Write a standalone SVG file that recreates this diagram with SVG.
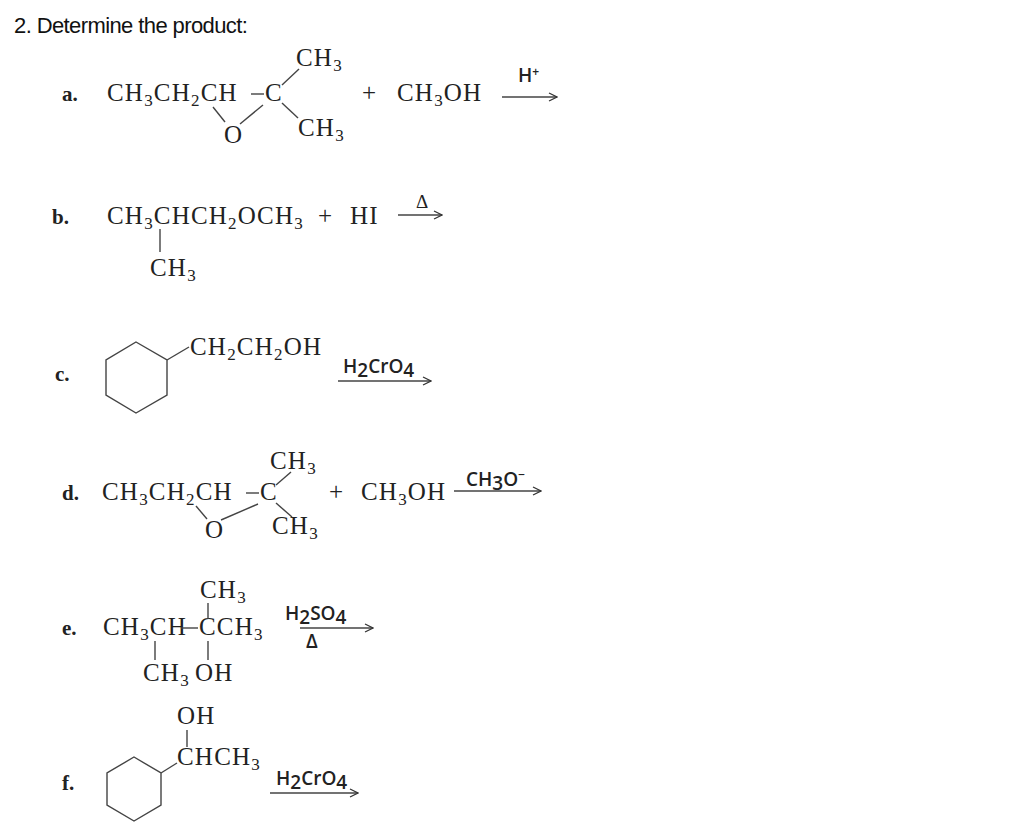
<svg xmlns="http://www.w3.org/2000/svg" width="1024" height="836" viewBox="0 0 1024 836">
<style>
.t{font-family:"Liberation Serif",serif;font-size:25px;letter-spacing:1.2px;fill:#222}
.s{font-size:17px}
.l{font-family:"Liberation Serif",serif;font-size:21px;font-weight:bold;fill:#222}
.r{font-family:"Open Sans","Liberation Sans",sans-serif;font-size:19px;font-weight:600;fill:#222}
.b{stroke:#444;stroke-width:1.4;fill:none}
.h{font-family:"Liberation Sans",sans-serif;font-size:22px;fill:#111;letter-spacing:-0.6px}
</style>
<defs><marker id="ar" markerWidth="10" markerHeight="10" refX="9" refY="5" orient="auto" markerUnits="userSpaceOnUse"><path d="M1,1 L9,5 L1,9" fill="none" stroke="#333" stroke-width="1.2"/></marker></defs>
<rect width="1024" height="836" fill="#fff"/>
<text class="h" x="14" y="33">2.  Determine the product:</text>

<g id="a">
<text class="l" x="62" y="101">a.</text>
<text class="t" x="107" y="101">CH<tspan class="s" dy="5">3</tspan><tspan dy="-5">CH</tspan><tspan class="s" dy="5">2</tspan><tspan dy="-5">CH</tspan></text>
<line class="b" x1="251" y1="94" x2="264" y2="94"/>
<text class="t" x="265" y="101">C</text>
<text class="t" x="296" y="66">CH<tspan class="s" dy="5">3</tspan></text>
<text class="t" x="298" y="136">CH<tspan class="s" dy="5">3</tspan></text>
<text class="t" x="224" y="143">O</text>
<line class="b" x1="282" y1="85" x2="299" y2="69"/>
<line class="b" x1="282" y1="103" x2="298" y2="118"/>
<line class="b" x1="213" y1="107" x2="225" y2="122"/>
<line class="b" x1="240" y1="124" x2="263" y2="105"/>
<text class="t" x="362" y="101">+</text>
<text class="t" x="397" y="101">CH<tspan class="s" dy="5">3</tspan><tspan dy="-5">OH</tspan></text>
<text class="r" x="518" y="82">H<tspan font-size="12" dy="-6">+</tspan></text>
</g>

<g id="b">
<text class="l" x="52" y="224">b.</text>
<text class="t" x="107" y="224">CH<tspan class="s" dy="5">3</tspan><tspan dy="-5">CHCH</tspan><tspan class="s" dy="5">2</tspan><tspan dy="-5">OCH</tspan><tspan class="s" dy="5">3</tspan></text>
<line class="b" x1="160" y1="229" x2="160" y2="252"/>
<text class="t" x="150" y="276">CH<tspan class="s" dy="5">3</tspan></text>
<text class="t" x="318" y="224">+</text>
<text class="t" x="350" y="224">HI</text>
<text class="t" x="416" y="208" style="font-size:19px">Δ</text>
</g>

<g id="c">
<text class="l" x="55" y="381">c.</text>
<polygon class="b" points="136,342 167,360 167,395 136,413 106,395 106,360"/>
<line class="b" x1="167" y1="360" x2="189" y2="347"/>
<text class="t" x="190" y="355">CH<tspan class="s" dy="5">2</tspan><tspan dy="-5">CH</tspan><tspan class="s" dy="5">2</tspan><tspan dy="-5">OH</tspan></text>
<text class="r" x="343" y="373">H<tspan dy="4">2</tspan><tspan dy="-4">CrO</tspan><tspan dy="4">4</tspan></text>
</g>

<g id="d">
<text class="l" x="62" y="500">d.</text>
<text class="t" x="102" y="500">CH<tspan class="s" dy="5">3</tspan><tspan dy="-5">CH</tspan><tspan class="s" dy="5">2</tspan><tspan dy="-5">CH</tspan></text>
<line class="b" x1="246" y1="493" x2="259" y2="493"/>
<text class="t" x="260" y="500">C</text>
<text class="t" x="270" y="469">CH<tspan class="s" dy="5">3</tspan></text>
<text class="t" x="272" y="534">CH<tspan class="s" dy="5">3</tspan></text>
<text class="t" x="205" y="538">O</text>
<line class="b" x1="276" y1="485" x2="291" y2="472"/>
<line class="b" x1="276" y1="503" x2="292" y2="517"/>
<line class="b" x1="196" y1="506" x2="207" y2="519"/>
<line class="b" x1="221" y1="520" x2="258" y2="504"/>
<text class="t" x="329" y="500">+</text>
<text class="t" x="361" y="500">CH<tspan class="s" dy="5">3</tspan><tspan dy="-5">OH</tspan></text>
<text class="r" x="466" y="486">CH<tspan dy="4">3</tspan><tspan dy="-4">O</tspan><tspan font-size="12" dy="-7">−</tspan></text>
</g>

<g id="e">
<text class="l" x="62" y="635">e.</text>
<text class="t" x="103" y="635">CH<tspan class="s" dy="5">3</tspan><tspan dy="-5">CH</tspan></text>
<line class="b" x1="181" y1="628" x2="198" y2="628"/>
<text class="t" x="199" y="635">CCH<tspan class="s" dy="5">3</tspan></text>
<text class="t" x="200" y="598">CH<tspan class="s" dy="5">3</tspan></text>
<line class="b" x1="208" y1="603" x2="208" y2="619"/>
<line class="b" x1="155" y1="641" x2="155" y2="660"/>
<line class="b" x1="208" y1="641" x2="208" y2="660"/>
<text class="t" x="143" y="681">CH<tspan class="s" dy="5">3</tspan></text>
<text class="t" x="195" y="681">OH</text>
<text class="r" x="285" y="620">H<tspan dy="4">2</tspan><tspan dy="-4">SO</tspan><tspan dy="4">4</tspan></text>
<text class="r" x="306" y="648">Δ</text>
</g>

<g id="f">
<text class="l" x="62" y="790">f.</text>
<polygon class="b" points="134,757 161,773 161,805 134,821 107,805 107,773"/>
<line class="b" x1="161" y1="773" x2="177" y2="763"/>
<text class="t" x="177" y="765">CHCH<tspan class="s" dy="5">3</tspan></text>
<text class="t" x="177" y="724">OH</text>
<line class="b" x1="187" y1="730" x2="187" y2="747"/>
<text class="r" x="276" y="785">H<tspan dy="4">2</tspan><tspan dy="-4">CrO</tspan><tspan dy="4">4</tspan></text>
</g>

<g id="connectors">
<line class="b" x1="502" y1="97" x2="557" y2="97" marker-end="url(#ar)"/>
<line class="b" x1="398" y1="215" x2="442" y2="215" marker-end="url(#ar)"/>
<line class="b" x1="338" y1="381" x2="431" y2="381" marker-end="url(#ar)"/>
<line class="b" x1="454" y1="491" x2="541" y2="491" marker-end="url(#ar)"/>
<line class="b" x1="300" y1="628" x2="373" y2="628" marker-end="url(#ar)"/>
<line class="b" x1="270" y1="793" x2="358" y2="793" marker-end="url(#ar)"/>
</g>
</svg>
